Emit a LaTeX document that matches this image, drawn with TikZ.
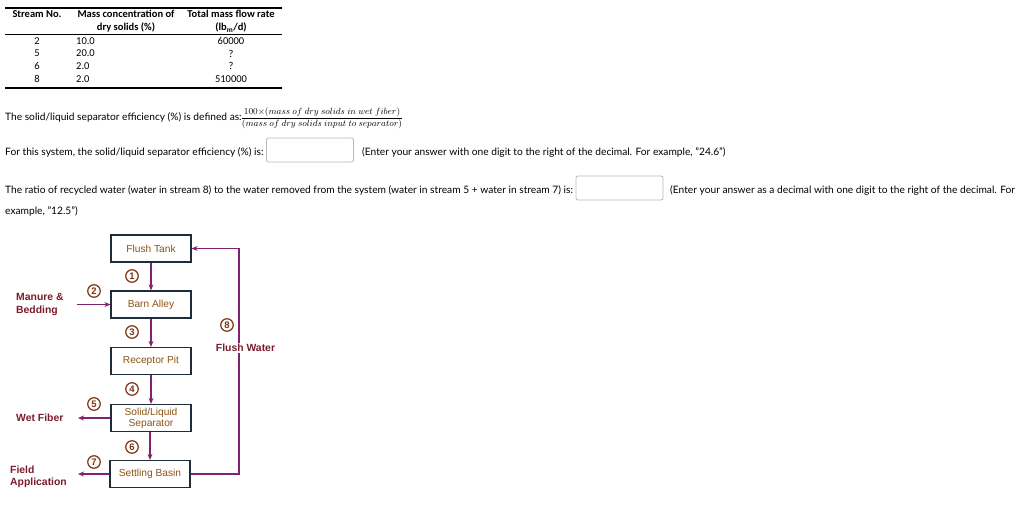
\documentclass[tikz,border=0pt]{standalone}
\usepackage{fontspec}
\setmainfont{Lato}
\newfontfamily\tabfont{Carlito}
\newfontfamily\diafont{Liberation Sans}
\usetikzlibrary{arrows.meta}
\definecolor{flowc}{RGB}{128,34,110}
\definecolor{labc}{RGB}{122,30,45}
\definecolor{boxtxt}{RGB}{140,85,20}
\definecolor{numc}{RGB}{125,55,20}
\definecolor{boxline}{RGB}{30,45,60}
\definecolor{ansline}{RGB}{185,185,185}
\begin{document}
\begin{tikzpicture}[x=1pt,y=-1pt,
  txt/.style={anchor=west,inner sep=0pt,font=\fontsize{10.2}{12}\selectfont},
  th/.style={inner sep=0pt,font=\tabfont\bfseries\fontsize{10.5}{13}\selectfont,align=center},
  td/.style={inner sep=0pt,font=\tabfont\fontsize{10.5}{12}\selectfont},
  rule/.style={line width=1.1pt},
  ansbox/.style={draw=ansline,line width=0.8pt,rounded corners=2pt,minimum width=87,minimum height=24,inner sep=0pt},
  unit/.style={draw=boxline,line width=1.2pt,fill=white,minimum width=80,minimum height=27,inner sep=1pt,align=center,text=boxtxt,font=\diafont\fontsize{10.2}{12}\selectfont},
  line/.style={draw=flowc,line width=1.3pt},
  flow/.style={line,-{Stealth[length=6pt,width=5pt]}},
  num/.style={circle,draw=numc,line width=1.2pt,text=numc,inner sep=0pt,minimum size=12.5,font=\diafont\bfseries\fontsize{9.5}{9.5}\selectfont},
  lab/.style={text=labc,inner sep=0pt,anchor=west,align=left,font=\diafont\bfseries\fontsize{10.4}{12.5}\selectfont}]
\useasboundingbox[fill=white] (0,0) rectangle (1024,505);
% table
\draw[rule] (5,8) -- (282,8);
\draw[line width=0.6pt] (5,34) -- (282,34);
\draw[rule] (5,88) -- (282,88);
\node[th,anchor=base] (h1) at (37,18) {Stream No.};
\node[th,anchor=base] (h2) at (126,18) {Mass concentration of};
\node[th,anchor=base] (h2b) at (126,31) {dry solids (\%)};
\node[th,anchor=base] (h3) at (231,18) {Total mass flow rate};
\node[th,anchor=base] (h3b) at (231,31) {(lb\textsubscript{m}/d)};
\node[td] (a1) at (37,41) {2};
\node[td] (a2) at (37,53.5) {5};
\node[td] (a3) at (37,66) {6};
\node[td] (a4) at (37,79) {8};
\node[td,anchor=west] (b1) at (76,41) {10.0};
\node[td,anchor=west] (b2) at (76,53.5) {20.0};
\node[td,anchor=west] (b3) at (76,66) {2.0};
\node[td,anchor=west] (b4) at (76,79) {2.0};
\node[td] (c1) at (231,41) {60000};
\node[td] (c2) at (231,53.5) {?};
\node[td] (c3) at (231,66) {?};
\node[td] (c4) at (231,79) {510000};
% text lines
\node[txt] (t1) at (5,117) {The solid/liquid separator efficiency (\%) is defined as:};
\node[inner sep=0pt,anchor=base,font=\fontsize{8.9}{11}\selectfont] (frac) at (322,120.3)
  {$\displaystyle\frac{100{\times}(mass\ of\ dry\ solids\ in\ wet\ fiber)}{(mass\ of\ dry\ solids\ input\ to\ separator)}$};
\node[txt] (t2) at (5,152) {For this system, the solid/liquid separator efficiency (\%) is:};
\node[ansbox] (box1) at (310,150) {};
\node[txt] (t3) at (362,152) {(Enter your answer with one digit to the right of the decimal. For example, "24.6")};
\node[txt] (t4) at (5,190) {The ratio of recycled water (water in stream 8) to the water removed from the system (water in stream 5 + water in stream 7) is:};
\node[ansbox] (box2) at (619.5,188) {};
\node[txt] (t5) at (670,190) {(Enter your answer as a decimal with one digit to the right of the decimal. For};
\node[txt] (t6) at (5,211) {example, "12.5")};
% diagram
\node[unit] (tank) at (151,248.5) {Flush Tank};
\node[unit] (barn) at (151,304.5) {Barn Alley};
\node[unit] (pit) at (151,361) {Receptor Pit};
\node[unit] (sep) at (151,418) {Solid/Liquid\\[-1pt]Separator};
\node[unit] (basin) at (150,474) {Settling Basin};
\draw[flow] (tank) -- (barn);
\draw[flow] (barn) -- (pit);
\draw[flow] (pit) -- (sep);
\draw[flow] (sep.south -| basin.north) -- (basin.north);
\coordinate (mstart) at (77,304.5);
\coordinate (wend) at (78,418);
\coordinate (fend) at (78,474);
\coordinate (lx) at (239,0);
\node[lab,anchor=center,inner sep=1pt] (fw) at (245.5,348) {Flush Water};
\draw[flow] (mstart) -- (barn.west);
\draw[flow] (sep.west) -- (wend);
\draw[flow] (basin.west) -- (fend);
\draw[line] (basin.east) -| (fw.south -| lx);
\draw[flow] (fw.north -| lx) |- (tank.east);
\node[num] (n1) at (132,276) {1};
\node[num] (n2) at (94,291) {2};
\node[num] (n3) at (132,332) {3};
\node[num] (n4) at (132,389) {4};
\node[num] (n5) at (94,404) {5};
\node[num] (n6) at (132,447) {6};
\node[num] (n7) at (94,462) {7};
\node[num] (n8) at (227,325) {8};
\node[lab] (manure) at (16,304.5) {Manure \&\\Bedding};
\node[lab] (wet) at (16,418) {Wet Fiber};
\node[lab] (field) at (10,477) {Field\\Application};
\end{tikzpicture}
\end{document}
